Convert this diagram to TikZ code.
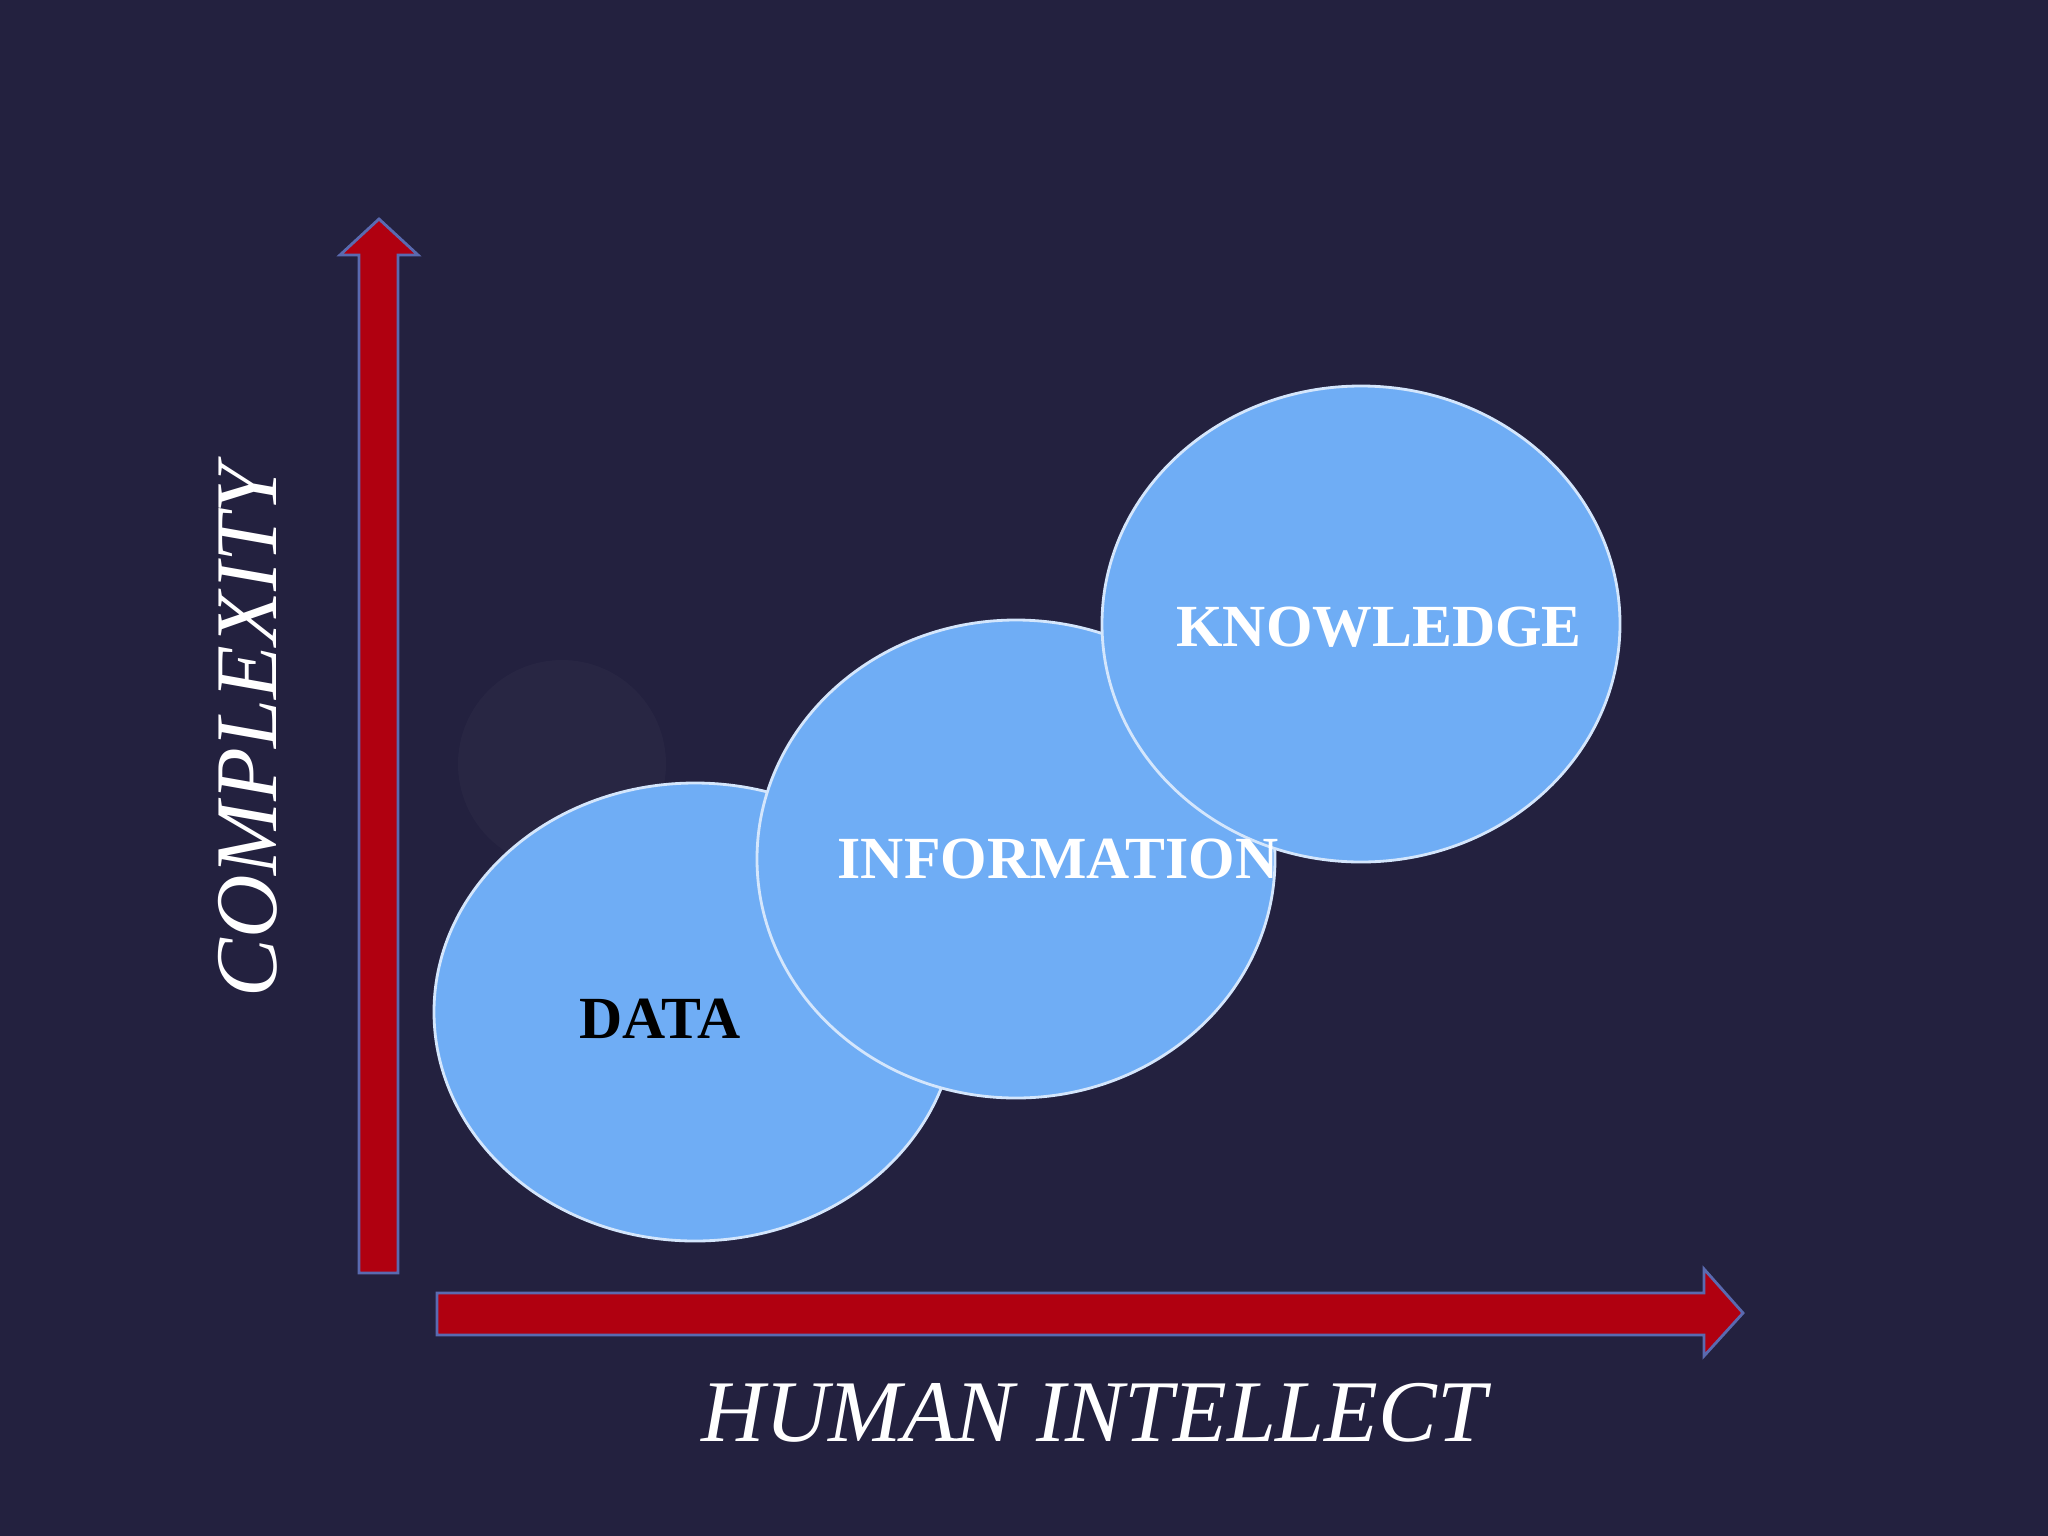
\documentclass[tikz,border=0pt]{standalone}
\usepackage{fontspec}
\setmainfont{Liberation Serif}
\definecolor{bg}{HTML}{23213F}
\definecolor{arr}{HTML}{B00010}
\definecolor{arrl}{HTML}{5A6AB0}
\definecolor{blob}{HTML}{6FADF5}
\tikzset{
  bubble/.style={fill=blob, draw=white!70!blob, line width=0.8pt},
  arrowshape/.style={fill=arr, draw=arrl, line width=0.8pt},
  lbl/.style={font=\bfseries\fontsize{17}{20}\selectfont},
  axis/.style={font=\itshape\fontsize{25}{30}\selectfont, text=white}
}
\begin{document}
\begin{tikzpicture}[x=0.01cm,y=-0.01cm]
\fill[bg] (0,0) rectangle (2048,1536);
\useasboundingbox (0,0) rectangle (2048,1536);
\fill[white, opacity=0.025] (562,764) circle (104);
% vertical arrow
\draw[arrowshape] (359,1273) -- (359,255) -- (340,255) -- (379,219) -- (418,255) -- (398,255) -- (398,1273) -- cycle;
% horizontal arrow
\draw[arrowshape] (437,1293) -- (1704,1293) -- (1704,1269) -- (1743,1313) -- (1704,1356) -- (1704,1335) -- (437,1335) -- cycle;
% bubbles
\draw[bubble] (695,1012) ellipse (261 and 229);
\draw[bubble] (1016,859) ellipse (259 and 239);
\draw[bubble] (1361,624) ellipse (259 and 238);
\node[lbl, text=black] (data) at (660,1019) {DATA};
\node[lbl, text=white] (info) at (1058,859) {INFORMATION};
\node[lbl, text=white] (know) at (1379,627) {KNOWLEDGE};
\node[axis] (hi) at (1094,1413) {HUMAN INTELLECT};
\node[axis, rotate=90] (cx) at (248,731) {COMPLEXITY};
\end{tikzpicture}
\end{document}
